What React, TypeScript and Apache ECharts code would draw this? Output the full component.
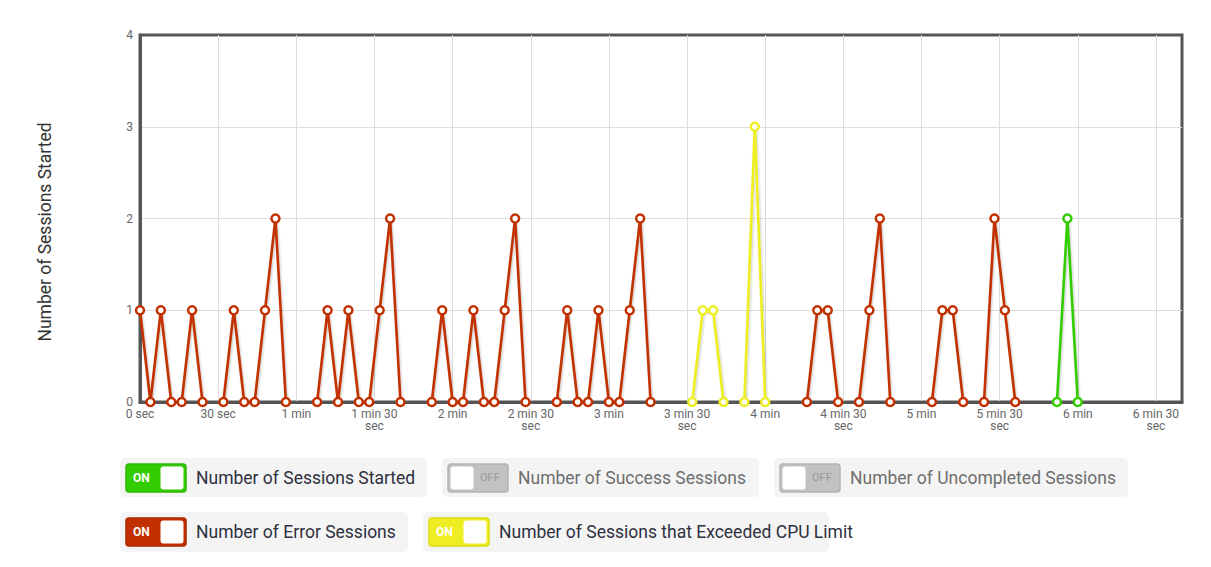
import React, { useEffect, useRef } from "react";
import * as echarts from "echarts";

// ---- data (seconds since start, number of sessions); null = no sample ----
const errorSeconds = [0, 4, 8, 12, 16, 20, 24, 28, 32, 36, 40, 44, 48, 52, 56, 60, 68, 72, 76, 80, 84, 88, 92, 96, 100, 104, 112, 116, 120, 124, 128, 132, 136, 140, 144, 148, 152, 160, 164, 168, 172, 176, 180, 184, 188, 192, 196, 200, 256, 260, 264, 268, 272, 276, 280, 284, 288, 292, 304, 308, 312, 316, 320, 324, 328, 332, 336];
const errorValues = [1, 0, 1, 0, 0, 1, 0, null, 0, 1, 0, 0, 1, 2, 0, null, 0, 1, 0, 1, 0, 0, 1, 2, 0, null, 0, 1, 0, 0, 1, 0, 0, 1, 2, 0, null, 0, 1, 0, 0, 1, 0, 0, 1, 2, 0, null, 0, 1, 1, 0, null, 0, 1, 2, 0, null, 0, 1, 1, 0, null, 0, 2, 1, 0];

const cpuSeconds = [212, 216, 220, 224, 228, 232, 236, 240];
const cpuValues = [0, 1, 1, 0, null, 0, 3, 0];

const startedSeconds = [352, 356, 360];
const startedValues = [0, 2, 0];

const yTicks = [0, 1, 2, 3, 4];
const xMaxSeconds = 400;
const xStepSeconds = 30;

const legendLabels = [
  "Number of Sessions Started",
  "Number of Success Sessions",
  "Number of Uncompleted Sessions",
  "Number of Error Sessions",
  "Number of Sessions that Exceeded CPU Limit",
];
const legendOn = [true, false, false, true, true];

// ---- styles / layout ----
const COLORS = {
  started: "#33cc00",
  error: "#c23000",
  cpu: "#eeee22",
  off: "#c2c2c2",
};
const toggleColors = [COLORS.started, COLORS.off, COLORS.off, COLORS.error, COLORS.cpu];
const toggleBorders = ["#2fb800", "#b4b4b4", "#b4b4b4", "#a82800", "#dada10"];
const legendBoxes = [
  { x: 120, y: 458, w: 307, h: 39 },
  { x: 442, y: 458, w: 317, h: 39 },
  { x: 774, y: 458, w: 354, h: 39 },
  { x: 120, y: 512, w: 288, h: 40 },
  { x: 423, y: 512, w: 406, h: 40 },
];

const FONT = "Roboto, 'Noto Sans', sans-serif";

function formatSeconds(v: number): string {
  if (v % xStepSeconds !== 0 || v >= xMaxSeconds) return "";
  if (v < 60) return `${v} sec`;
  const m = Math.floor(v / 60);
  const s = v % 60;
  return s === 0 ? `${m} min` : `${m} min ${s}\nsec`;
}

function toData(secs: number[], vals: (number | null)[]) {
  return secs.map((s, i) => [s, vals[i] === null ? "-" : vals[i]]);
}

function lineSeries(name: string, color: string, data: any[]) {
  return {
    name,
    type: "line",
    data,
    connectNulls: false,
    symbol: "circle",
    symbolSize: 8,
    itemStyle: { color: "#ffffff", borderColor: color, borderWidth: 2.5 },
    lineStyle: {
      color,
      width: 2.6,
      shadowColor: "rgba(0,0,0,0.22)",
      shadowBlur: 2,
      shadowOffsetX: 1,
      shadowOffsetY: 2,
    },
    emphasis: { disabled: true },
    z: 3,
  };
}

function buildLegend() {
  const els: any[] = [];
  legendLabels.forEach((label, i) => {
    const b = legendBoxes[i];
    const on = legendOn[i];
    const tx = b.x + 6;
    const th = 28;
    const ty = b.y + Math.round((b.h - th) / 2);
    const cy = b.y + b.h / 2;
    els.push({
      type: "rect",
      shape: { x: b.x, y: b.y, width: b.w, height: b.h, r: 5 },
      style: { fill: "#f4f4f4" },
      silent: true,
    });
    els.push({
      type: "rect",
      shape: { x: tx, y: ty, width: 60, height: th, r: 3 },
      style: { fill: toggleColors[i], stroke: toggleBorders[i], lineWidth: 1.5 },
      silent: true,
    });
    els.push({
      type: "rect",
      shape: { x: on ? tx + 34.5 : tx + 2.5, y: ty + 2.5, width: 23, height: 23, r: 3 },
      style: { fill: "#ffffff" },
      silent: true,
    });
    els.push({
      type: "text",
      x: on ? tx + 7 : tx + 32,
      y: cy,
      style: {
        text: on ? "ON" : "OFF",
        fill: on ? "#ffffff" : "#9a9a9a",
        font: on ? `bold 12px ${FONT}` : `11px ${FONT}`,
        textAlign: "left",
        textVerticalAlign: "middle",
      },
      silent: true,
    });
    els.push({
      type: "text",
      x: b.x + 76,
      y: cy,
      style: {
        text: label,
        fill: on ? "#2e3040" : "#6e6e6e",
        font: `17.5px ${FONT}`,
        textAlign: "left",
        textVerticalAlign: "middle",
      },
      silent: true,
    });
  });
  return els;
}

export default function App() {
  const ref = useRef<HTMLDivElement>(null);

  useEffect(() => {
    document.body.style.margin = "0";
    if (!ref.current) return;
    const chart = echarts.init(ref.current, null, { renderer: "svg" });
    chart.setOption({
      animation: false,
      backgroundColor: "#ffffff",
      textStyle: { fontFamily: FONT },
      grid: {
        left: 140,
        top: 35,
        width: 1042,
        height: 367,
        show: true,
        borderColor: "#555555",
        borderWidth: 3,
        backgroundColor: "transparent",
        outerBoundsMode: "none",
        containLabel: false,
      },
      xAxis: {
        type: "value",
        min: 0,
        max: xMaxSeconds,
        interval: xStepSeconds,
        axisLine: { show: true, lineStyle: { color: "#555555", width: 3 } },
        axisTick: { show: false },
        splitLine: { show: true, showMinLine: false, showMaxLine: false, lineStyle: { color: "#dddddd", width: 1 } },
        axisLabel: {
          formatter: (v: number) => formatSeconds(v),
          color: "#666666",
          fontSize: 12,
          lineHeight: 12,
          margin: 6,
          showMaxLabel: false,
          fontFamily: FONT,
        },
      },
      yAxis: {
        type: "value",
        min: yTicks[0],
        max: yTicks[yTicks.length - 1],
        interval: 1,
        axisLine: { show: true, lineStyle: { color: "#555555", width: 3 } },
        axisTick: { show: false },
        splitLine: { show: true, showMinLine: false, showMaxLine: false, lineStyle: { color: "#dddddd", width: 1 } },
        axisLabel: { color: "#666666", fontSize: 12, margin: 7, fontFamily: FONT },
      },
      graphic: [
        {
          type: "text",
          x: 45,
          y: 232,
          rotation: Math.PI / 2,
          style: {
            text: "Number of Sessions Started",
            fill: "#333333",
            font: `17.5px ${FONT}`,
            textAlign: "center",
            textVerticalAlign: "middle",
          },
          silent: true,
        },
        ...buildLegend(),
      ],
      series: [
        lineSeries("Number of Sessions Started", COLORS.started, toData(startedSeconds, startedValues)),
        lineSeries("Number of Error Sessions", COLORS.error, toData(errorSeconds, errorValues)),
        lineSeries("Number of Sessions that Exceeded CPU Limit", COLORS.cpu, toData(cpuSeconds, cpuValues)),
      ],
    });
    return () => chart.dispose();
  }, []);

  return <div ref={ref} style={{ width: 1211, height: 567 }} />;
}
